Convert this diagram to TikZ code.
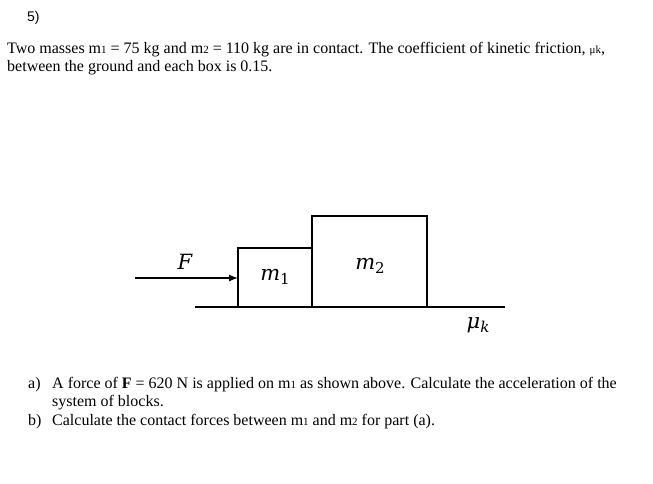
\documentclass[tikz,border=0pt]{standalone}
\usepackage{fontspec}
\setmainfont{Liberation Serif}
\newfontfamily\sansf{Liberation Sans}
\newfontfamily\labf{DejaVu Serif}
\tikzset{txt/.style={anchor=base west,inner sep=0pt,font=\fontsize{16}{19}\selectfont},
box/.style={draw,line width=2pt},
ml/.style={font=\labf\itshape\fontsize{21}{24}\selectfont}}
\newcommand{\sub}[1]{{\fontsize{11}{11}\selectfont #1}}
\newcommand{\lsub}[1]{\raisebox{-4pt}{\fontsize{15}{15}\selectfont #1}}
\begin{document}
\begin{tikzpicture}[x=1pt,y=-1pt]
\useasboundingbox[fill=white] (0,0) rectangle (653,483);
\node[txt,font=\sansf\fontsize{14}{16}\selectfont] (n5) at (27,21) {5)};
\node[txt] (t1) at (7,53) {Two masses m\sub{1} = 75 kg and m\sub{2} = 110 kg are in contact. The coefficient of kinetic friction, \sub{μk},};
\node[txt] (t2) at (7,71) {between the ground and each box is 0.15.};
\draw[box] (238,307) rectangle (312,248);
\draw[box] (312,307) rectangle (427,216);
\draw[line width=2pt] (195,307) -- (505,307);
\coordinate (fs) at (135,278);
\coordinate (fe) at (238,278);
\draw[line width=2pt,-latex] (fs) -- (fe);
\node[ml] (F) at (185,262) {F};
\node[ml] (m1) at (275,277) {m\lsub{\upshape 1}};
\node[ml] (m2) at (370,266) {m\lsub{\upshape 2}};
\node[ml] (mu) at (478,325) {μ\lsub{k}};
\node[txt] (a) at (28,388) {a)};
\node[txt] (a1) at (52,388) {A force of \textbf{F} = 620 N is applied on m\sub{1} as shown above. Calculate the acceleration of the};
\node[txt] (a2) at (52,406) {system of blocks.};
\node[txt] (b) at (28,425) {b)};
\node[txt] (b1) at (52,425) {Calculate the contact forces between m\sub{1} and m\sub{2} for part (a).};
\end{tikzpicture}
\end{document}
